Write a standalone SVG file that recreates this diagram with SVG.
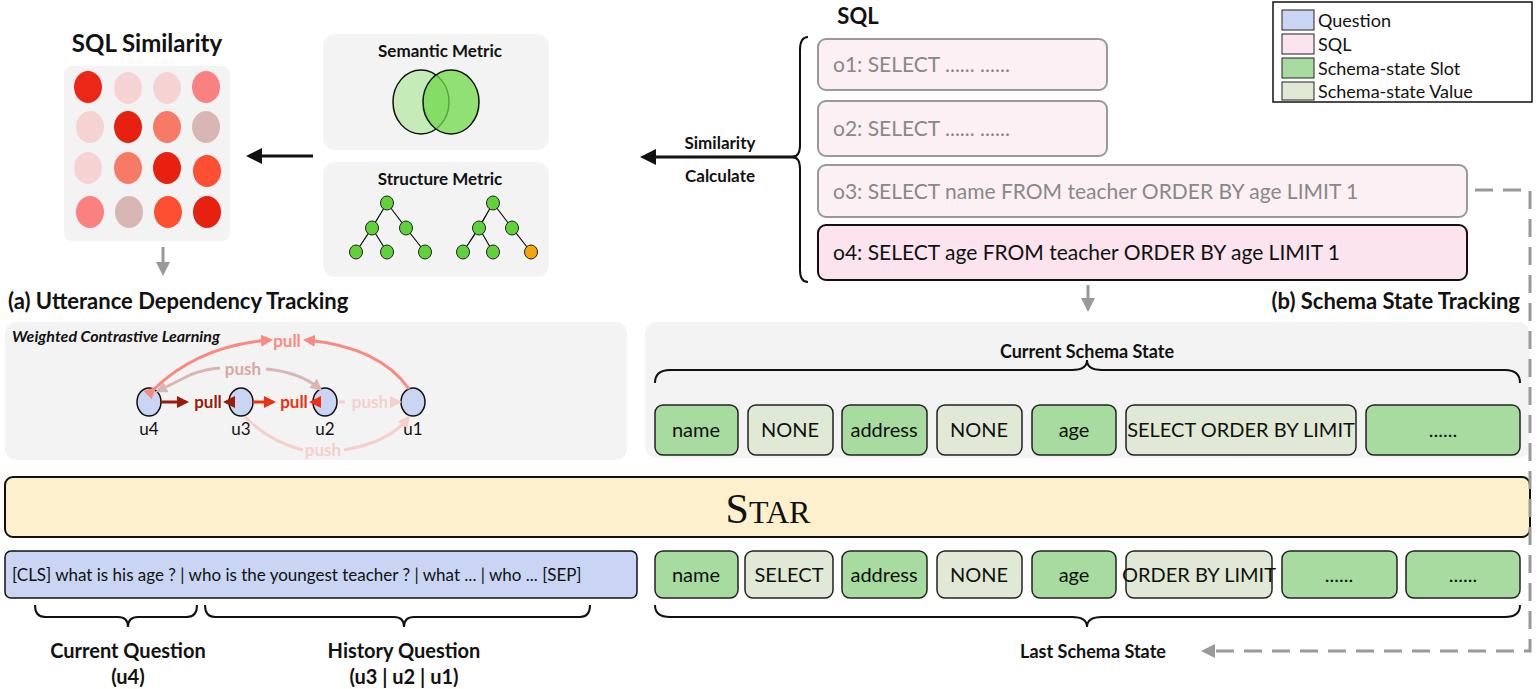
<svg xmlns="http://www.w3.org/2000/svg" width="1537" height="689" viewBox="0 0 1537 689">
<style>
text{font-family:Lato,"Open Sans","Liberation Sans",sans-serif;fill:#111}
.b{font-weight:bold}
.panel{fill:#f3f3f3}
.slot{fill:#a8dba0;stroke:#222;stroke-width:1.5}
.val{fill:#dfe9d5;stroke:#222;stroke-width:1.5}
.st{font-size:20px;text-anchor:middle}
.sql{fill:#fdf0f5;stroke:#999;stroke-width:2}
text.sqlt{font-size:21px;fill:#888}
.brace{fill:none;stroke:#111;stroke-width:2}
.gn{fill:#5fd23a;stroke:#222;stroke-width:1}
.node{fill:#c9d5f2;stroke:#111;stroke-width:1.5}
.lbl{font-size:17px;text-anchor:middle}
text.c1{fill:#f98a80}
text.c2{fill:#d8a8a3}
text.c3{fill:#f6cfcc}
text.c4{fill:#9a1b08}
text.c5{fill:#ee3010}
</style>
<defs>
<marker id="ag" markerWidth="14" markerHeight="14" refX="10" refY="7" orient="auto" markerUnits="userSpaceOnUse"><path d="M0,0L14,7L0,14z" fill="#999"/></marker>
<marker id="ak" markerWidth="16" markerHeight="16" refX="12" refY="8" orient="auto" markerUnits="userSpaceOnUse"><path d="M0,0L16,8L0,16z" fill="#111"/></marker>
<marker id="ap" markerWidth="12" markerHeight="12" refX="9" refY="6" orient="auto" markerUnits="userSpaceOnUse"><path d="M0,0L12,6L0,12z" fill="context-stroke"/></marker>
</defs>
<rect width="1537" height="689" fill="#fff"/>

<g id="legend">
<rect x="1273" y="2" width="259" height="100" fill="#fff" stroke="#111" stroke-width="1.5"/>
<rect x="1282" y="10" width="32" height="20" fill="#c9d5f2" stroke="#222"/><text x="1318" y="27" font-size="18">Question</text>
<rect x="1282" y="34" width="32" height="20" fill="#fbe4ee" stroke="#222"/><text x="1318" y="51" font-size="18">SQL</text>
<rect x="1282" y="58" width="32" height="20" fill="#a8dba0" stroke="#222"/><text x="1318" y="75" font-size="18">Schema-state Slot</text>
<rect x="1282" y="82" width="32" height="18" fill="#dfe9d5" stroke="#222"/><text x="1318" y="98" font-size="18">Schema-state Value</text>
</g>

<g id="sqlsim">
<text x="147" y="52" font-size="24" class="b" text-anchor="middle">SQL Similarity</text>
<rect x="64" y="66" width="166" height="175" rx="8" class="panel"/>
<ellipse cx="88" cy="87" rx="14" ry="16" fill="#ec2715"/><ellipse cx="128" cy="88" rx="14" ry="16" fill="#f5d3d3"/><ellipse cx="167" cy="88" rx="14" ry="16" fill="#f5d3d3"/><ellipse cx="206" cy="87" rx="14" ry="16" fill="#fb8080"/>
<ellipse cx="90" cy="127" rx="14" ry="16" fill="#f5d3d3"/><ellipse cx="128" cy="127" rx="14" ry="16" fill="#e8200f"/><ellipse cx="167" cy="127" rx="14" ry="16" fill="#f77a66"/><ellipse cx="206" cy="127" rx="14" ry="16" fill="#d8b6b3"/>
<ellipse cx="88" cy="168" rx="14" ry="16" fill="#f5d3d3"/><ellipse cx="128" cy="168" rx="14" ry="16" fill="#f77a66"/><ellipse cx="167" cy="168" rx="14" ry="16" fill="#e8200f"/><ellipse cx="207" cy="171" rx="14" ry="16" fill="#ff4f33"/>
<ellipse cx="90" cy="212" rx="14" ry="16" fill="#fb8080"/><ellipse cx="129" cy="212" rx="14" ry="16" fill="#d8b6b3"/><ellipse cx="168" cy="212" rx="14" ry="16" fill="#ff4f33"/><ellipse cx="207" cy="212" rx="14" ry="16" fill="#e8200f"/>
</g>

<g id="semantic">
<rect x="323" y="34" width="226" height="116" rx="12" class="panel"/>
<text x="440" y="57" font-size="17" class="b" text-anchor="middle">Semantic Metric</text>
<ellipse cx="421" cy="102" rx="28" ry="32" fill="#c4ebb8" stroke="#111" stroke-width="1.5"/>
<ellipse cx="451" cy="102" rx="28" ry="32" fill="#6fd94a" fill-opacity="0.75" stroke="#111" stroke-width="1.5"/>
</g>

<g id="structure">
<rect x="323" y="162" width="226" height="115" rx="12" class="panel"/>
<text x="440" y="185" font-size="17" class="b" text-anchor="middle">Structure Metric</text>
<g stroke="#111" stroke-width="1.2">
<path d="M387,203L372,228L356,252M372,228L387,252M387,203L406,228L425,252"/>
<path d="M493,203L479,228L463,252M479,228L493,252M493,203L512,228L531,252"/>
</g>
<g class="gn"><ellipse cx="387" cy="203" rx="6.5" ry="7"/><ellipse cx="372" cy="228" rx="6.5" ry="7"/><ellipse cx="406" cy="228" rx="6.5" ry="7"/><ellipse cx="356" cy="252" rx="6.5" ry="7"/><ellipse cx="387" cy="252" rx="6.5" ry="7"/><ellipse cx="425" cy="252" rx="6.5" ry="7"/>
<ellipse cx="493" cy="203" rx="6.5" ry="7"/><ellipse cx="479" cy="228" rx="6.5" ry="7"/><ellipse cx="512" cy="228" rx="6.5" ry="7"/><ellipse cx="463" cy="252" rx="6.5" ry="7"/><ellipse cx="493" cy="252" rx="6.5" ry="7"/></g>
<ellipse cx="531" cy="252" rx="6.5" ry="7" fill="#f5a50a" stroke="#222"/>
</g>

<g id="simcalc">
<text x="720" y="149" font-size="17" class="b" text-anchor="middle">Similarity</text>
<text x="720" y="182" font-size="17" class="b" text-anchor="middle">Calculate</text>
</g>

<g id="sql">
<text x="858" y="24" font-size="22" class="b" text-anchor="middle">SQL</text>
<path class="brace" d="M808,37 Q800,37 800,50 L800,145 Q800,157 792,157 Q800,157 800,169 L800,270 Q800,282 808,282"/>
<rect x="818" y="39" width="289" height="51" rx="8" class="sql"/><text x="833" y="72" class="sqlt">o1: SELECT ...... ......</text>
<rect x="818" y="101" width="289" height="55" rx="8" class="sql"/><text x="833" y="136" class="sqlt">o2: SELECT ...... ......</text>
<rect x="818" y="165" width="649" height="52" rx="8" class="sql"/><text x="833" y="199" class="sqlt">o3: SELECT name FROM teacher ORDER BY age LIMIT 1</text>
<rect x="818" y="225" width="649" height="55" rx="8" fill="#fbe4ee" stroke="#111" stroke-width="2"/><text x="833" y="260" font-size="21">o4: SELECT age FROM teacher ORDER BY age LIMIT 1</text>
</g>

<g id="utterance">
<text x="8" y="309" font-size="22" class="b">(a) Utterance Dependency Tracking</text>
<rect x="5" y="322" width="622" height="138" rx="12" class="panel"/>
<text x="12" y="342" font-size="16" class="b" font-style="italic">Weighted Contrastive Learning</text>
<text x="287" y="347" font-size="17" class="b c1" text-anchor="middle">pull</text>
<text x="243" y="375" font-size="17" class="b c2" text-anchor="middle">push</text>
<text x="370" y="408" font-size="17" class="b c3" text-anchor="middle">push</text>
<text x="323" y="456" font-size="17" class="b c3" text-anchor="middle">push</text>
<text x="208" y="408" font-size="17" class="b c4" text-anchor="middle">pull</text>
<text x="294" y="408" font-size="17" class="b c5" text-anchor="middle">pull</text>
<g id="u4"><ellipse cx="149" cy="402" rx="12" ry="14" class="node"/><text x="149" y="435" class="lbl">u4</text></g>
<g id="u3"><ellipse cx="241" cy="402" rx="12" ry="14" class="node"/><text x="241" y="435" class="lbl">u3</text></g>
<g id="u2"><ellipse cx="325" cy="402" rx="12" ry="14" class="node"/><text x="325" y="435" class="lbl">u2</text></g>
<g id="u1"><ellipse cx="413" cy="402" rx="12" ry="14" class="node"/><text x="413" y="435" class="lbl">u1</text></g>
</g>

<g id="schema">
<text x="1520" y="309" font-size="22" class="b" text-anchor="end">(b) Schema State Tracking</text>
<rect x="645" y="322" width="885" height="136" rx="12" class="panel"/>
<text x="1087" y="358" font-size="18" class="b" text-anchor="middle">Current Schema  State</text>
<path class="brace" d="M655,383 Q655,370 670,370 L1072,370 Q1087,370 1087,360 Q1087,370 1102,370 L1505,370 Q1520,370 1520,383"/>
<rect x="655" y="405" width="83" height="50" rx="8" class="slot"/><text x="696" y="437" class="st">name</text>
<rect x="748" y="405" width="85" height="50" rx="8" class="val"/><text x="790" y="437" class="st">NONE</text>
<rect x="842" y="405" width="85" height="50" rx="8" class="slot"/><text x="884" y="437" class="st">address</text>
<rect x="937" y="405" width="85" height="50" rx="8" class="val"/><text x="979" y="437" class="st">NONE</text>
<rect x="1032" y="405" width="84" height="50" rx="8" class="slot"/><text x="1074" y="437" class="st">age</text>
<rect x="1126" y="405" width="230" height="50" rx="8" class="val"/><text x="1241" y="437" class="st" font-size="19">SELECT ORDER BY LIMIT</text>
<rect x="1366" y="405" width="154" height="50" rx="8" class="slot"/><text x="1443" y="437" class="st">......</text>
</g>

<g id="star">
<rect x="5" y="477" width="1525" height="60" rx="8" fill="#fdf0cc" stroke="#111" stroke-width="2"/>
<text x="768" y="523" font-size="42" text-anchor="middle" style="font-family:'Liberation Serif',serif">S<tspan font-size="32">TAR</tspan></text>
</g>

<g id="question">
<rect x="5" y="551" width="632" height="47" rx="6" fill="#c9d5f2" stroke="#111" stroke-width="1.5"/>
<text x="12" y="581" font-size="17">[CLS] what is his age ?  | who is the youngest teacher ? | what ... | who ... [SEP]</text>
<path class="brace" d="M35,605 Q35,617 45,617 L118,617 Q128,617 128,627 Q128,617 138,617 L187,617 Q197,617 197,605"/>
<path class="brace" d="M205,605 Q205,617 215,617 L394,617 Q404,617 404,627 Q404,617 414,617 L580,617 Q590,617 590,605"/>
<text x="128" y="658" font-size="20" class="b" text-anchor="middle">Current Question</text>
<text x="128" y="684" font-size="20" class="b" text-anchor="middle">(u4)</text>
<text x="404" y="658" font-size="20" class="b" text-anchor="middle">History Question</text>
<text x="404" y="684" font-size="20" class="b" text-anchor="middle">(u3 | u2 | u1)</text>
</g>

<g id="lastschema">
<rect x="655" y="551" width="83" height="47" rx="8" class="slot"/><text x="696" y="582" class="st">name</text>
<rect x="745" y="551" width="88" height="47" rx="8" class="val"/><text x="789" y="582" class="st">SELECT</text>
<rect x="842" y="551" width="85" height="47" rx="8" class="slot"/><text x="884" y="582" class="st">address</text>
<rect x="937" y="551" width="85" height="47" rx="8" class="val"/><text x="979" y="582" class="st">NONE</text>
<rect x="1032" y="551" width="84" height="47" rx="8" class="slot"/><text x="1074" y="582" class="st">age</text>
<rect x="1126" y="551" width="146" height="47" rx="8" class="val"/><text x="1199" y="582" class="st" font-size="18">ORDER BY LIMIT</text>
<rect x="1282" y="551" width="115" height="47" rx="8" class="slot"/><text x="1339" y="582" class="st">......</text>
<rect x="1406" y="551" width="114" height="47" rx="8" class="slot"/><text x="1463" y="582" class="st">......</text>
<path class="brace" d="M655,605 Q655,617 670,617 L1072,617 Q1087,617 1087,627 Q1087,617 1102,617 L1505,617 Q1520,617 1520,605"/>
<text x="1093" y="658" font-size="18" class="b" text-anchor="middle">Last Schema  State</text>
</g>

<g id="connectors" fill="none">
<path d="M313,156 L250,156" stroke="#111" stroke-width="3" marker-end="url(#ak)"/>
<path d="M795,157 L644,157" stroke="#111" stroke-width="3" marker-end="url(#ak)"/>
<path d="M163,247 L163,272" stroke="#999" stroke-width="3" marker-end="url(#ag)"/>
<path d="M1088,285 L1088,308" stroke="#999" stroke-width="3" marker-end="url(#ag)"/>
<path d="M1475,190 L1530,190 L1530,651 L1205,651" stroke="#999" stroke-width="3" stroke-dasharray="18,10" marker-end="url(#ag)"/>
<path d="M161,402 L186,402" stroke="#9a1b08" stroke-width="3" marker-end="url(#ap)"/>
<path d="M229,402 L226,402" stroke="#9a1b08" stroke-width="3" marker-end="url(#ap)"/>
<path d="M253,402 L273,402" stroke="#ee3010" stroke-width="3" marker-end="url(#ap)"/>
<path d="M313,402 L312,402" stroke="#ee3010" stroke-width="3" marker-end="url(#ap)"/>
<path d="M154,389 Q200,345 270,340" stroke="#f98a80" stroke-width="3" marker-start="url(#ap)" marker-end="url(#ap)"/>
<path d="M409,389 Q380,347 306,340" stroke="#f98a80" stroke-width="3" marker-end="url(#ap)"/>
<path d="M190,375 Q205,369 220,368" stroke="#d8b6b3" stroke-width="3"/>
<path d="M190,375 L158,391" stroke="#d8b6b3" stroke-width="3" marker-end="url(#ap)"/>
<path d="M266,369 Q300,372 320,389" stroke="#d8b6b3" stroke-width="3" marker-end="url(#ap)"/>
<path d="M345,402 L339,402 M396,402 L399,402" stroke="#f6cfcc" stroke-width="3" marker-end="url(#ap)"/>
<path d="M303,450 Q270,442 245,417 M344,450 Q390,442 408,418" stroke="#f6cfcc" stroke-width="3" marker-end="url(#ap)"/>
</g>
</svg>
